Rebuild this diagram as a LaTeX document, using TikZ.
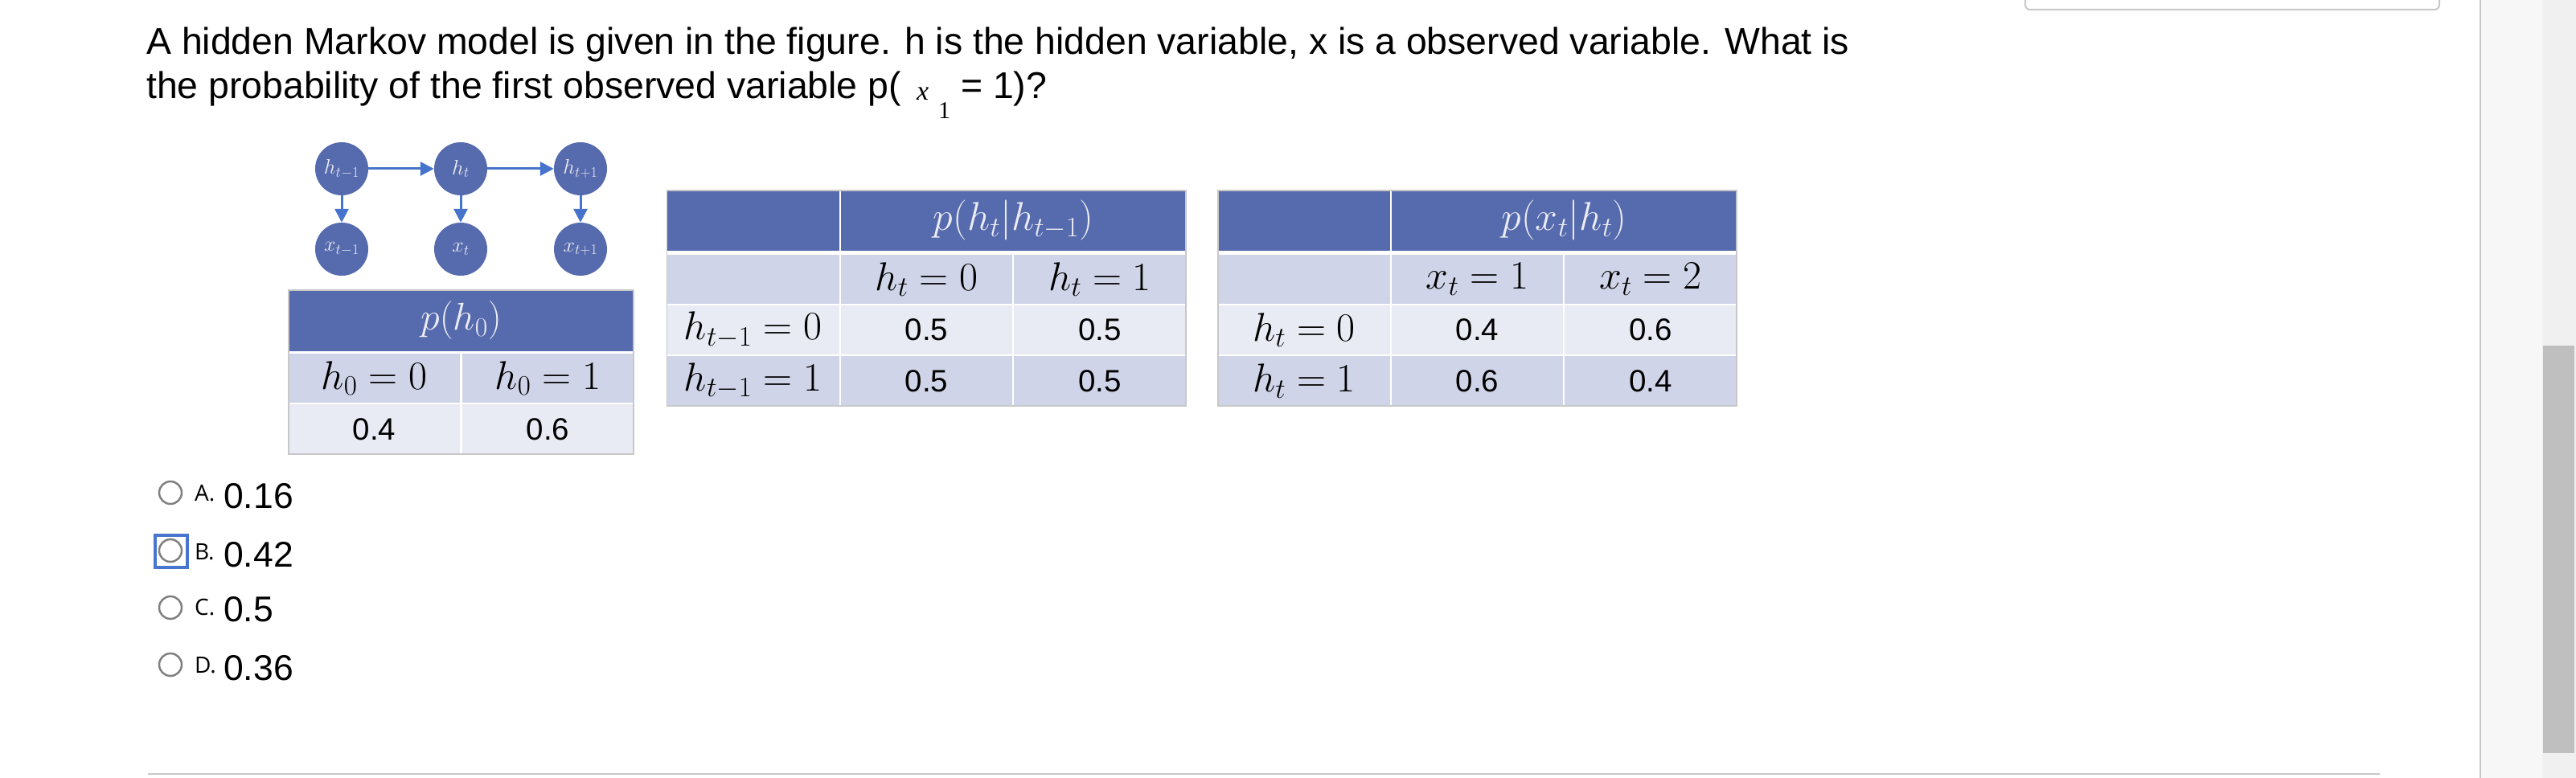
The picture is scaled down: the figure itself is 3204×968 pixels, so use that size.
\RequirePackage{fix-cm}
\documentclass[tikz,border=0pt]{standalone}
\usepackage{fontspec}
\usetikzlibrary{arrows.meta}

\newfontfamily\arialfont{Liberation Sans}
\newfontfamily\timesfont{Liberation Serif}
\newfontfamily\uifont{Open Sans}

\definecolor{nodeblue}{RGB}{86,106,174}
\definecolor{arrowblue}{RGB}{70,116,204}
\definecolor{banddark}{RGB}{208,212,232}
\definecolor{bandlight}{RGB}{232,234,244}
\definecolor{headtext}{RGB}{236,236,242}
\definecolor{rulegray}{RGB}{200,200,200}
\definecolor{focusblue}{RGB}{72,118,206}

\begin{document}
\begin{tikzpicture}
  [
    x=1pt, y=-1pt,
    inner sep=0pt,
    state/.style={circle,fill=nodeblue,text=headtext,minimum size=66pt,font=\fontsize{26}{30}\selectfont},
    link/.style={draw=arrowblue,line width=3pt,-{Triangle[length=17pt,width=17pt]}},
    headcell/.style={rectangle,fill=nodeblue,text=headtext},
    darkcell/.style={rectangle,fill=banddark},
    lightcell/.style={rectangle,fill=bandlight},
    mathbig/.style={font=\fontsize{50}{60}\selectfont},
    number/.style={font=\arialfont\fontsize{38.5}{44}\selectfont},
    question/.style={anchor=base west,font=\arialfont\fontsize{46.4}{55}\selectfont},
    radio/.style={circle,draw=black!50,line width=2.5pt,minimum size=28pt},
    key/.style={anchor=base west,font=\uifont\fontsize{28}{32}\selectfont},
    answer/.style={anchor=base west,font=\arialfont\fontsize{44.5}{50}\selectfont},
  ]
  \useasboundingbox (0,0) rectangle (3204,968);
  \fill[white] (0,0) rectangle (3204,968);

  % page chrome
  \draw[rulegray,line width=2pt,fill=white,rounded corners=6pt] (2519,-20) rectangle (3034,12);
  \fill[black!3] (3086,0) rectangle (3162,968);
  \fill[black!6] (3162,0) rectangle (3204,968);
  \fill[black!25] (3163,430) rectangle (3202,937);
  \draw[rulegray,line width=2.5pt] (3085,0) -- (3085,968);
  \draw[rulegray,line width=2pt] (184,963) -- (2960,963);

  % question
  \node[question] (line one) at (182,68)
    {A hidden Markov model is given in the figure. h is the hidden variable, x is a observed variable. What is};
  \node[question] (line two) at (182,123) {the probability of the first observed variable p(};
  \node[anchor=base west,font=\timesfont\itshape\fontsize{34}{40}\selectfont] (x var) at (1140,125) {x};
  \node[anchor=base west,font=\timesfont\fontsize{30}{36}\selectfont] (x index) at (1167,148) {1};
  \node[question] (line two end) at (1195,123) {= 1)?};

  % hidden Markov chain
  \node[state] (h prev) at (425,210) {$h_{t-1}$};
  \node[state] (h now)  at (573,210) {$h_t$};
  \node[state] (h next) at (722,210) {$h_{t+1}$};
  \node[state] (x prev) at (425,310) {$x_{t-1}$};
  \node[state] (x now)  at (573,310) {$x_t$};
  \node[state] (x next) at (722,310) {$x_{t+1}$};
  \draw[link] (h prev) -- (h now);
  \draw[link] (h now) -- (h next);
  \draw[link] (h prev) -- (x prev);
  \draw[link] (h now) -- (x now);
  \draw[link] (h next) -- (x next);

  % prior table
  \node[headcell,minimum width=429pt,minimum height=76pt,font=\fontsize{48}{56}\selectfont] (prior) at (573.5,399) {$p(h_0)$};
  \node[darkcell,mathbig,minimum width=213pt,minimum height=61pt] (prior h0) at (465.5,470.5) {$h_0=0$};
  \node[darkcell,mathbig,minimum width=213pt,minimum height=61pt] (prior h1) at (681.5,470.5) {$h_0=1$};
  \node[lightcell,number,minimum width=213pt,minimum height=62pt] (prior p0) at (465.5,534) {0.4};
  \node[lightcell,number,minimum width=213pt,minimum height=62pt] (prior p1) at (681.5,534) {0.6};
  \draw[rulegray,line width=1.5pt] (prior.north west) rectangle (prior p1.south east);

  % transition table
  \node[headcell,minimum width=214pt,minimum height=75pt] (trans corner) at (936.5,274.5) {};
  \node[headcell,mathbig,minimum width=429pt,minimum height=75pt] (trans) at (1260.5,274.5) {$p(h_t|h_{t-1})$};
  \node[darkcell,minimum width=214pt,minimum height=61pt] (trans blank) at (936.5,347.5) {};
  \node[darkcell,mathbig,minimum width=213pt,minimum height=61pt] (trans c0) at (1152.5,347.5) {$h_t=0$};
  \node[darkcell,mathbig,minimum width=214pt,minimum height=61pt] (trans c1) at (1368,347.5) {$h_t=1$};
  \node[lightcell,mathbig,minimum width=214pt,minimum height=61pt] (trans r0) at (936.5,410.5) {$h_{t-1}=0$};
  \node[lightcell,number,minimum width=213pt,minimum height=61pt] (trans 00) at (1152.5,410.5) {0.5};
  \node[lightcell,number,minimum width=214pt,minimum height=61pt] (trans 01) at (1368,410.5) {0.5};
  \node[darkcell,mathbig,minimum width=214pt,minimum height=62pt] (trans r1) at (936.5,474) {$h_{t-1}=1$};
  \node[darkcell,number,minimum width=213pt,minimum height=62pt] (trans 10) at (1152.5,474) {0.5};
  \node[darkcell,number,minimum width=214pt,minimum height=62pt] (trans 11) at (1368,474) {0.5};
  \draw[rulegray,line width=1.5pt] (trans corner.north west) rectangle (trans 11.south east);

  % emission table
  \node[headcell,minimum width=214pt,minimum height=75pt] (emit corner) at (1622,274.5) {};
  \node[headcell,mathbig,minimum width=429pt,minimum height=75pt] (emit) at (1945.5,274.5) {$p(x_t|h_t)$};
  \node[darkcell,minimum width=214pt,minimum height=61pt] (emit blank) at (1622,347.5) {};
  \node[darkcell,mathbig,minimum width=213pt,minimum height=61pt] (emit c1) at (1837.5,347.5) {$x_t=1$};
  \node[darkcell,mathbig,minimum width=214pt,minimum height=61pt] (emit c2) at (2053,347.5) {$x_t=2$};
  \node[lightcell,mathbig,minimum width=214pt,minimum height=61pt] (emit r0) at (1622,410.5) {$h_t=0$};
  \node[lightcell,number,minimum width=213pt,minimum height=61pt] (emit 01) at (1837.5,410.5) {0.4};
  \node[lightcell,number,minimum width=214pt,minimum height=61pt] (emit 02) at (2053,410.5) {0.6};
  \node[darkcell,mathbig,minimum width=214pt,minimum height=62pt] (emit r1) at (1622,474) {$h_t=1$};
  \node[darkcell,number,minimum width=213pt,minimum height=62pt] (emit 11) at (1837.5,474) {0.6};
  \node[darkcell,number,minimum width=214pt,minimum height=62pt] (emit 12) at (2053,474) {0.4};
  \draw[rulegray,line width=1.5pt] (emit corner.north west) rectangle (emit 12.south east);

  % answers
  \node[radio] (opt a) at (212,613) {};
  \node[key] (opt a key) at (242,623) {A.};
  \node[answer] (opt a val) at (278,632) {0.16};
  \node[radio] (opt b) at (212,685) {};
  \node[draw=focusblue,line width=4pt,minimum size=40pt] (opt b focus) at (213,685.5) {};
  \node[key] (opt b key) at (242,696) {B.};
  \node[answer] (opt b val) at (278,705) {0.42};
  \node[radio] (opt c) at (212,756) {};
  \node[key] (opt c key) at (242,765) {C.};
  \node[answer] (opt c val) at (278,773) {0.5};
  \node[radio] (opt d) at (212,827) {};
  \node[key] (opt d key) at (242,837) {D.};
  \node[answer] (opt d val) at (278,846) {0.36};
\end{tikzpicture}
\end{document}
